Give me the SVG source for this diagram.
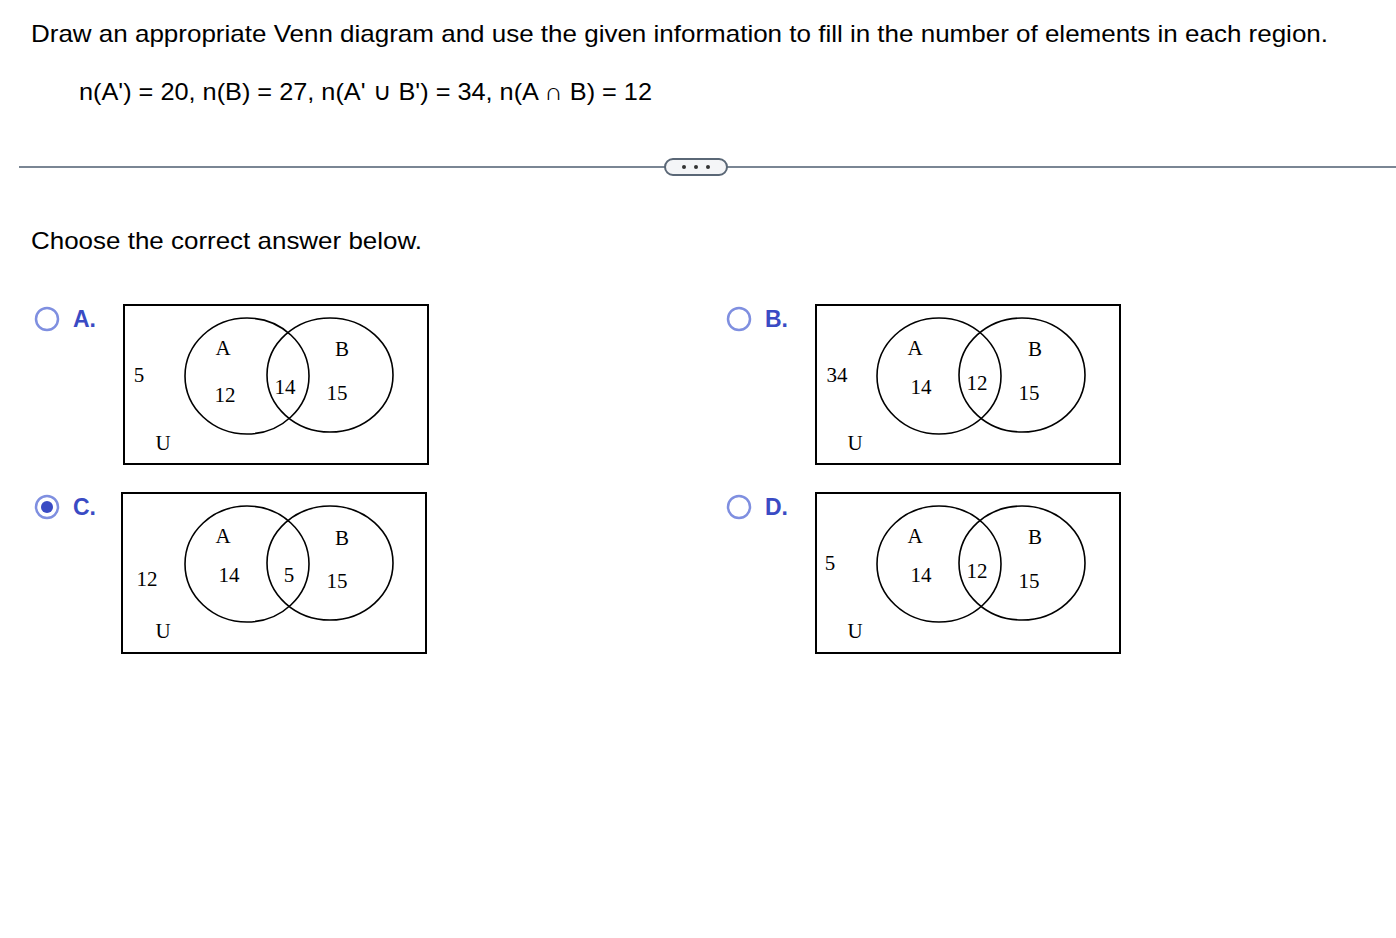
<svg xmlns="http://www.w3.org/2000/svg" width="1396" height="938" viewBox="0 0 1396 938">
<style>
.t{font-family:"Liberation Sans",Arial,sans-serif;font-size:24px;fill:#000}
.s{font-family:"Liberation Serif","Times New Roman",serif;font-size:21px;fill:#000;text-anchor:middle}
.box{fill:none;stroke:#000;stroke-width:2}
.c{fill:none;stroke:#000;stroke-width:1.6}
.rb{fill:#fff;stroke:#7f8fe0;stroke-width:2.5}
.lab{font-family:"Liberation Sans",Arial,sans-serif;font-size:23px;font-weight:bold;fill:#3a4bc4}
</style>
<rect width="1396" height="938" fill="#fff"/>
<text class="t" x="31" y="42" textLength="1297" lengthAdjust="spacingAndGlyphs">Draw an appropriate Venn diagram and use the given information to fill in the number of elements in each region.</text>
<text class="t" x="79" y="100" textLength="573" lengthAdjust="spacingAndGlyphs">n(A') = 20, n(B) = 27, n(A' ∪ B') = 34, n(A ∩ B) = 12</text>
<g id="divider">
<line x1="19" y1="167" x2="665" y2="167" stroke="#7a8694" stroke-width="2"/>
<line x1="727" y1="167" x2="1396" y2="167" stroke="#7a8694" stroke-width="2"/>
<rect x="665" y="159" width="62" height="16" rx="8" fill="#f4f5f7" stroke="#5a6776" stroke-width="2"/>
<circle cx="684" cy="167" r="2" fill="#333"/><circle cx="696" cy="167" r="2" fill="#333"/><circle cx="708" cy="167" r="2" fill="#333"/>
</g>
<text class="t" x="31" y="249" textLength="391" lengthAdjust="spacingAndGlyphs">Choose the correct answer below.</text>

<g id="optA">
<circle class="rb" cx="47" cy="319" r="11"/>
<text class="lab" x="73" y="327">A.</text>
<g transform="translate(124,305)">
<rect class="box" x="0" y="0" width="304" height="159"/>
<ellipse class="c" cx="123" cy="71" rx="62" ry="58"/>
<ellipse class="c" cx="206" cy="70" rx="63" ry="57"/>
<text class="s" x="99" y="50">A</text><text class="s" x="218" y="51">B</text>
<text class="s" x="15" y="77">5</text><text class="s" x="101" y="97">12</text>
<text class="s" x="161" y="89">14</text><text class="s" x="213" y="95">15</text>
<text class="s" x="39" y="145">U</text>
</g>
</g>

<g id="optB">
<circle class="rb" cx="739" cy="319" r="11"/>
<text class="lab" x="765" y="327">B.</text>
<g transform="translate(816,305)">
<rect class="box" x="0" y="0" width="304" height="159"/>
<ellipse class="c" cx="123" cy="71" rx="62" ry="58"/>
<ellipse class="c" cx="206" cy="70" rx="63" ry="57"/>
<text class="s" x="99" y="50">A</text><text class="s" x="219" y="51">B</text>
<text class="s" x="21" y="77">34</text><text class="s" x="105" y="89">14</text>
<text class="s" x="161" y="85">12</text><text class="s" x="213" y="95">15</text>
<text class="s" x="39" y="145">U</text>
</g>
</g>

<g id="optC">
<circle class="rb" cx="47" cy="507" r="11"/>
<circle cx="47" cy="507" r="6" fill="#3a4bc4"/>
<text class="lab" x="73" y="515">C.</text>
<g transform="translate(122,493)">
<rect class="box" x="0" y="0" width="304" height="160"/>
<ellipse class="c" cx="125" cy="71" rx="62" ry="58"/>
<ellipse class="c" cx="208" cy="70" rx="63" ry="57"/>
<text class="s" x="101" y="50">A</text><text class="s" x="220" y="52">B</text>
<text class="s" x="25" y="93">12</text><text class="s" x="107" y="89">14</text>
<text class="s" x="167" y="89">5</text><text class="s" x="215" y="95">15</text>
<text class="s" x="41" y="145">U</text>
</g>
</g>

<g id="optD">
<circle class="rb" cx="739" cy="507" r="11"/>
<text class="lab" x="765" y="515">D.</text>
<g transform="translate(816,493)">
<rect class="box" x="0" y="0" width="304" height="160"/>
<ellipse class="c" cx="123" cy="71" rx="62" ry="58"/>
<ellipse class="c" cx="206" cy="70" rx="63" ry="57"/>
<text class="s" x="99" y="50">A</text><text class="s" x="219" y="51">B</text>
<text class="s" x="14" y="77">5</text><text class="s" x="105" y="89">14</text>
<text class="s" x="161" y="85">12</text><text class="s" x="213" y="95">15</text>
<text class="s" x="39" y="145">U</text>
</g>
</g>
</svg>
